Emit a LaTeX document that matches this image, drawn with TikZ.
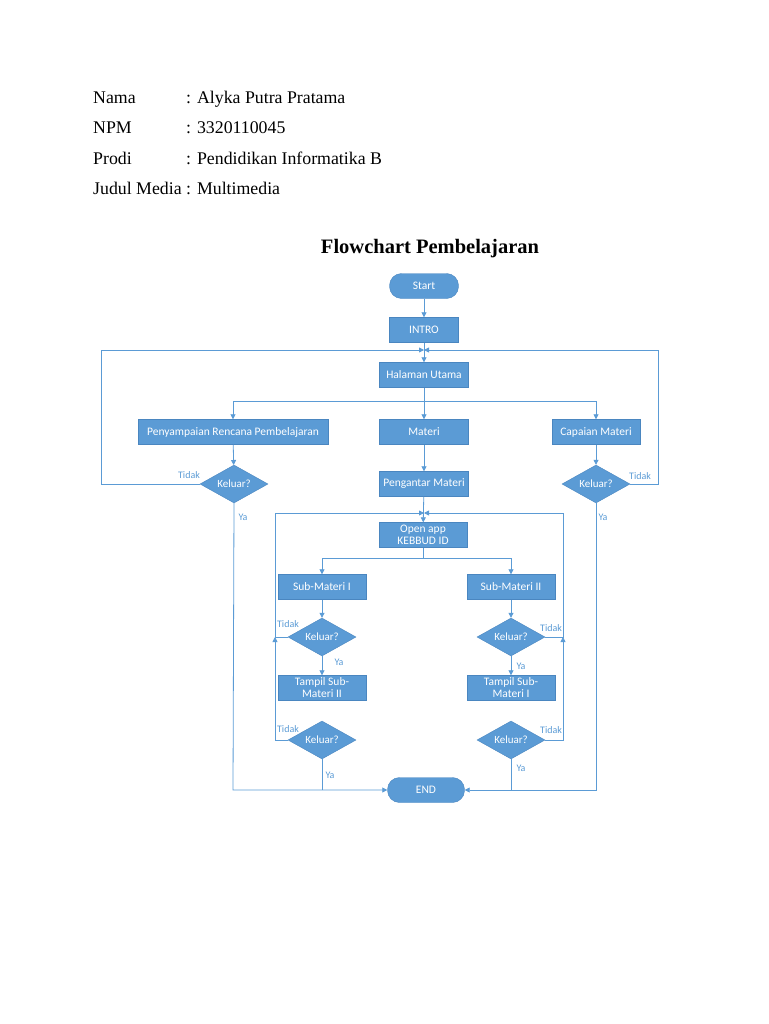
\documentclass[tikz,border=0pt]{standalone}
\usepackage{fontspec}
\setmainfont{Liberation Serif}
\newfontfamily\calfont{Carlito}
\usetikzlibrary{shapes.geometric,shapes.misc,arrows.meta}
\definecolor{bfill}{HTML}{5B9BD5}
\definecolor{bdraw}{HTML}{4A86C0}
\definecolor{bline}{HTML}{5B9BD5}
\begin{document}
\begin{tikzpicture}[x=1pt,y=-1pt,
 box/.style={rectangle,fill=bfill,draw=bdraw,text=white,font=\calfont\fontsize{11.5}{13}\selectfont,minimum height=25pt,inner sep=1pt,align=center},
 dec/.style={diamond,aspect=1.8,fill=bfill,draw=bdraw,text=white,font=\calfont\fontsize{11}{13}\selectfont,minimum width=68pt,minimum height=38pt,inner sep=-2.5pt},
 ln/.style={draw=bline,line width=0.8pt},
 ar/.style={ln,-{Triangle[width=5pt,length=5pt]}},
 lab/.style={text=bline,font=\calfont\fontsize{10}{11}\selectfont,inner sep=0pt},
 hd/.style={anchor=base west,font=\fontsize{17.8}{20}\selectfont,inner sep=0pt}]
\useasboundingbox (0,0) rectangle (768,1024);
\node[hd] (n1) at (93,104) {Nama};
\node[hd] (c1) at (186,104) {: Alyka Putra Pratama};
\node[hd] (n2) at (93,134) {NPM};
\node[hd] (c2) at (186,134) {: 3320110045};
\node[hd] (n3) at (93,165) {Prodi};
\node[hd] (c3) at (186,165) {: Pendidikan Informatika B};
\node[hd] (n4) at (93,195) {Judul Media : Multimedia};
\node[font=\bfseries\fontsize{20.5}{22}\selectfont,inner sep=0pt] (title) at (430,249) {Flowchart Pembelajaran};

\node[box,rounded corners=12pt,minimum width=69pt] (start) at (424,286) {Start};
\node[box,minimum width=69pt] (intro) at (424,330) {INTRO};
\node[box,minimum width=89pt] (hal) at (424,375) {Halaman Utama};
\node[box,minimum width=190pt] (pen) at (233,432) {Penyampaian Rencana Pembelajaran};
\node[box,minimum width=89pt] (mat) at (424,432) {Materi};
\node[box,minimum width=88pt] (cap) at (596,432) {Capaian Materi};
\node[dec] (d1) at (234,484) {Keluar?};
\node[dec] (d2) at (596,484) {Keluar?};
\node[box,minimum width=89pt] (peng) at (424,484) {Pengantar Materi};
\node[box,minimum width=88pt,inner sep=0pt] (open) at (423,535) {Open app\\[-1pt]KEBBUD ID};
\node[box,minimum width=88pt] (s1) at (322,587) {Sub-Materi I};
\node[box,minimum width=88pt] (s2) at (511,587) {Sub-Materi II};
\node[dec] (k1) at (322,637) {Keluar?};
\node[dec] (k2) at (511,637) {Keluar?};
\node[box,minimum width=88pt,inner sep=0pt] (t1) at (322,688) {Tampil Sub-\\[-1pt]Materi II};
\node[box,minimum width=88pt,inner sep=0pt] (t2) at (511,688) {Tampil Sub-\\[-1pt]Materi I};
\node[dec] (k3) at (322,740) {Keluar?};
\node[dec] (k4) at (511,740) {Keluar?};
\node[box,rounded corners=12pt,minimum width=77pt] (end) at (426,790) {END};

\coordinate (j1) at (424,350);
\coordinate (j2) at (424,513);
\coordinate (b1) at (424,401);
\coordinate (b2) at (423,558);

\draw[ar] (start) -- (intro);
\draw[ar] (intro) -- (hal);
\draw[ln] (hal) -- (b1);
\draw[ar] (b1) -| (pen.north);
\draw[ar] (b1) -- (mat);
\draw[ar] (b1) -| (cap.north);
\draw[ar] (pen) -- (d1);
\draw[ar] (cap) -- (d2);
\draw[ar] (mat) -- (peng);
\draw[ar] (d1.west) -- (101,484) -- (101,350) -- (j1);
\draw[ar] (d2.east) -- (658,484) -- (658,350) -- (j1);
\draw[ar] (peng) -- (open);
\draw[ln] (open) -- (b2);
\draw[ar] (b2) -| (s1.north);
\draw[ar] (b2) -| (s2.north);
\draw[ar] (s1) -- (k1);
\draw[ar] (s2) -- (k2);
\draw[ar] (k1) -- (t1);
\draw[ar] (k2) -- (t2);
\draw[ar] (k3.west) -- (275,740) -- (275,637);
\draw[ar] (k1.west) -- (275,637) -- (275,513) -- (j2);
\draw[ar] (k4.east) -- (563,740) -- (563,637);
\draw[ar] (k2.east) -- (563,637) -- (563,513) -- (j2);
\draw[ar] (d1.south) -- (233,790) -- (end.west);
\draw[ln] (k3.south) -- (322,790);
\draw[ar] (d2.south) -- (596,790) -- (end.east);
\draw[ln] (k4.south) -- (511,790);

\node[lab] (l1) at (189,475) {Tidak};
\node[lab] (l2) at (243,517) {Ya};
\node[lab] (l3) at (640,476) {Tidak};
\node[lab] (l4) at (603,517) {Ya};
\node[lab] (l5) at (288,624) {Tidak};
\node[lab] (l6) at (339,662) {Ya};
\node[lab] (l7) at (288,729) {Tidak};
\node[lab] (l8) at (330,775) {Ya};
\node[lab] (l9) at (551,628) {Tidak};
\node[lab] (l10) at (521,666) {Ya};
\node[lab] (l11) at (551,730) {Tidak};
\node[lab] (l12) at (521,768) {Ya};
\end{tikzpicture}
\end{document}
